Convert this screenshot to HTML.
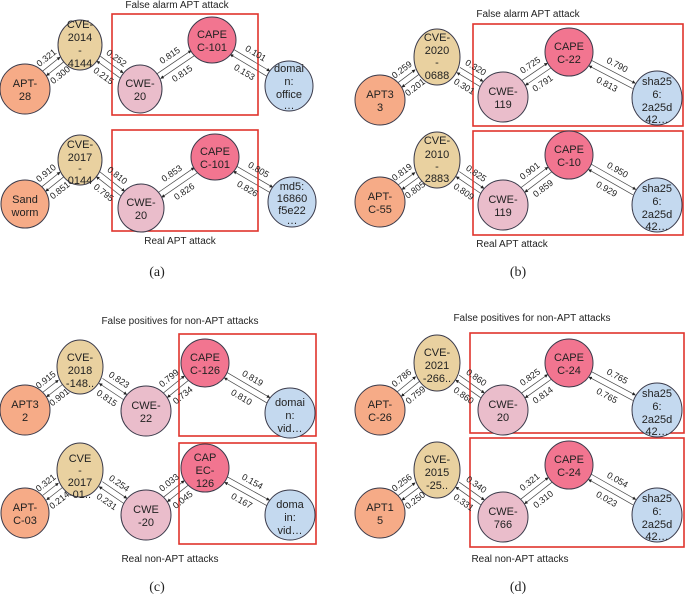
<!DOCTYPE html>
<html><head><meta charset="utf-8"><style>
html,body{margin:0;padding:0;background:#fff;}
svg{display:block;}
.n{stroke:#3a3a4a;stroke-width:1;}
.t{font-family:"Liberation Sans",sans-serif;font-size:11px;fill:#222;text-anchor:middle;}
.e{font-family:"Liberation Sans",sans-serif;font-size:9px;fill:#222;text-anchor:middle;}
.h{font-family:"Liberation Sans",sans-serif;font-size:10px;fill:#222;text-anchor:middle;}
.c{font-family:"Liberation Serif",serif;font-size:14px;fill:#222;text-anchor:middle;}
.apt{fill:#f6ab87}.cve{fill:#e9d1a0}.cwe{fill:#eabdcb}.cap{fill:#f27590}.blu{fill:#c4d9ef}
.box{fill:none;stroke:#e0342c;stroke-width:1.6;}
</style></head><body>
<svg id="s" width="685" height="599" viewBox="0 0 685 599" xmlns="http://www.w3.org/2000/svg">
<defs><marker id="ar" viewBox="0 0 6 6" refX="5.5" refY="3" markerWidth="5" markerHeight="5" orient="auto"><path d="M0,0L6,3L0,6z" fill="#222"/></marker></defs>
<g id="edges" stroke="#444" stroke-width="0.7"></g>

<rect class="box" x="112" y="14" width="146" height="101"/>
<rect class="box" x="112" y="130" width="146" height="101"/>
<rect class="box" x="473" y="24" width="210" height="102"/>
<rect class="box" x="473" y="131" width="210" height="104"/>
<rect class="box" x="179" y="334" width="137" height="102"/>
<rect class="box" x="179" y="443" width="137" height="101"/>
<rect class="box" x="470" y="333" width="214" height="100"/>
<rect class="box" x="470" y="438" width="214" height="109"/>

<text class="h" x="177" y="8">False alarm APT attack</text>
<text class="h" x="180" y="244">Real APT attack</text>
<text class="c" x="157" y="276">(a)</text>
<text class="h" x="528" y="17">False alarm APT attack</text>
<text class="h" x="512" y="247">Real APT attack</text>
<text class="c" x="518" y="276">(b)</text>
<text class="h" x="180" y="324">False positives for non-APT attacks</text>
<text class="h" x="170" y="562">Real non-APT attacks</text>
<text class="c" x="157" y="591">(c)</text>
<text class="h" x="532" y="321">False positives for non-APT attacks</text>
<text class="h" x="520" y="562">Real non-APT attacks</text>
<text class="c" x="518" y="591">(d)</text>

<ellipse class="n apt" cx="25" cy="89" rx="25" ry="25"/><text class="t" x="25" y="87">APT-</text><text class="t" x="25" y="100">28</text>
<ellipse class="n cve" cx="80" cy="45" rx="22" ry="25"/><text class="t" x="80" y="28">CVE-</text><text class="t" x="80" y="41">2014</text><text class="t" x="80" y="54">-</text><text class="t" x="80" y="67">4144</text>
<ellipse class="n cwe" cx="140" cy="89" rx="22" ry="24"/><text class="t" x="140" y="87">CWE-</text><text class="t" x="140" y="100">20</text>
<ellipse class="n cap" cx="212" cy="40" rx="24" ry="23"/><text class="t" x="212" y="38">CAPE</text><text class="t" x="212" y="51">C-101</text>
<ellipse class="n blu" cx="289" cy="86" rx="24" ry="25"/><text class="t" x="289" y="72">domai</text><text class="t" x="289" y="85">n:</text><text class="t" x="289" y="98">office</text><text class="t" x="289" y="109">…</text>
<ellipse class="n apt" cx="25" cy="204" rx="24" ry="24"/><text class="t" x="25" y="203">Sand</text><text class="t" x="25" y="216">worm</text>
<ellipse class="n cve" cx="80" cy="160" rx="22" ry="25"/><text class="t" x="80" y="148">CVE-</text><text class="t" x="80" y="161">2017</text><text class="t" x="80" y="172">-</text><text class="t" x="80" y="184">0144</text>
<ellipse class="n cwe" cx="141" cy="208" rx="23" ry="24"/><text class="t" x="141" y="206">CWE-</text><text class="t" x="141" y="219">20</text>
<ellipse class="n cap" cx="215" cy="157" rx="24" ry="23"/><text class="t" x="215" y="155">CAPE</text><text class="t" x="215" y="168">C-101</text>
<ellipse class="n blu" cx="292" cy="202" rx="24" ry="25"/><text class="t" x="292" y="190">md5:</text><text class="t" x="292" y="202">16860</text><text class="t" x="292" y="214">f5e22</text><text class="t" x="292" y="224">…</text>

<ellipse class="n apt" cx="380" cy="100" rx="25" ry="25"/><text class="t" x="380" y="98">APT3</text><text class="t" x="380" y="111">3</text>
<ellipse class="n cve" cx="437" cy="57" rx="23" ry="28"/><text class="t" x="437" y="41">CVE-</text><text class="t" x="437" y="54">2020</text><text class="t" x="437" y="66">-</text><text class="t" x="437" y="79">0688</text>
<ellipse class="n cwe" cx="503" cy="97" rx="25" ry="25"/><text class="t" x="503" y="95">CWE-</text><text class="t" x="503" y="108">119</text>
<ellipse class="n cap" cx="569" cy="52" rx="24" ry="24"/><text class="t" x="569" y="50">CAPE</text><text class="t" x="569" y="63">C-22</text>
<ellipse class="n blu" cx="657" cy="98" rx="25" ry="27"/><text class="t" x="657" y="85">sha25</text><text class="t" x="657" y="98">6:</text><text class="t" x="657" y="111">2a25d</text><text class="t" x="657" y="123">42…</text>
<ellipse class="n apt" cx="380" cy="202" rx="25" ry="25"/><text class="t" x="380" y="200">APT-</text><text class="t" x="380" y="213">C-55</text>
<ellipse class="n cve" cx="437" cy="160" rx="23" ry="28"/><text class="t" x="437" y="144">CVE-</text><text class="t" x="437" y="158">2010</text><text class="t" x="437" y="170">-</text><text class="t" x="437" y="182">2883</text>
<ellipse class="n cwe" cx="503" cy="205" rx="25" ry="25"/><text class="t" x="503" y="203">CWE-</text><text class="t" x="503" y="216">119</text>
<ellipse class="n cap" cx="569" cy="155" rx="24" ry="24"/><text class="t" x="569" y="153">CAPE</text><text class="t" x="569" y="166">C-10</text>
<ellipse class="n blu" cx="657" cy="205" rx="25" ry="27"/><text class="t" x="657" y="192">sha25</text><text class="t" x="657" y="205">6:</text><text class="t" x="657" y="218">2a25d</text><text class="t" x="657" y="230">42…</text>

<ellipse class="n apt" cx="25" cy="410" rx="25" ry="25"/><text class="t" x="25" y="408">APT3</text><text class="t" x="25" y="421">2</text>
<ellipse class="n cve" cx="80" cy="367" rx="23" ry="27"/><text class="t" x="80" y="361">CVE-</text><text class="t" x="80" y="374">2018</text><text class="t" x="80" y="387">-148..</text>
<ellipse class="n cwe" cx="146" cy="411" rx="25" ry="25"/><text class="t" x="146" y="409">CWE-</text><text class="t" x="146" y="422">22</text>
<ellipse class="n cap" cx="205" cy="363" rx="24" ry="24"/><text class="t" x="205" y="361">CAPE</text><text class="t" x="205" y="374">C-126</text>
<ellipse class="n blu" cx="290" cy="413" rx="25" ry="25"/><text class="t" x="290" y="406">domai</text><text class="t" x="290" y="419">n:</text><text class="t" x="290" y="432">vid…</text>
<ellipse class="n apt" cx="25" cy="513" rx="24" ry="25"/><text class="t" x="25" y="511">APT-</text><text class="t" x="25" y="524">C-03</text>
<ellipse class="n cve" cx="80" cy="470" rx="23" ry="27"/><text class="t" x="80" y="462">CVE</text><text class="t" x="80" y="474">-</text><text class="t" x="80" y="486">2017</text><text class="t" x="80" y="498">-01..</text>
<ellipse class="n cwe" cx="146" cy="515" rx="25" ry="25"/><text class="t" x="146" y="513">CWE</text><text class="t" x="146" y="526">-20</text>
<ellipse class="n cap" cx="205" cy="468" rx="24" ry="24"/><text class="t" x="205" y="461">CAP</text><text class="t" x="205" y="474">EC-</text><text class="t" x="205" y="487">126</text>
<ellipse class="n blu" cx="290" cy="515" rx="25" ry="25"/><text class="t" x="290" y="508">doma</text><text class="t" x="290" y="521">in:</text><text class="t" x="290" y="534">vid…</text>

<ellipse class="n apt" cx="380" cy="410" rx="25" ry="25"/><text class="t" x="380" y="408">APT-</text><text class="t" x="380" y="421">C-26</text>
<ellipse class="n cve" cx="437" cy="363" rx="23" ry="28"/><text class="t" x="437" y="356">CVE-</text><text class="t" x="437" y="369">2021</text><text class="t" x="437" y="382">-266..</text>
<ellipse class="n cwe" cx="503" cy="410" rx="25" ry="25"/><text class="t" x="503" y="408">CWE-</text><text class="t" x="503" y="421">20</text>
<ellipse class="n cap" cx="569" cy="363" rx="24" ry="24"/><text class="t" x="569" y="361">CAPE</text><text class="t" x="569" y="374">C-24</text>
<ellipse class="n blu" cx="657" cy="410" rx="25" ry="27"/><text class="t" x="657" y="397">sha25</text><text class="t" x="657" y="410">6:</text><text class="t" x="657" y="423">2a25d</text><text class="t" x="657" y="435">42…</text>
<ellipse class="n apt" cx="380" cy="513" rx="25" ry="25"/><text class="t" x="380" y="511">APT1</text><text class="t" x="380" y="524">5</text>
<ellipse class="n cve" cx="437" cy="470" rx="23" ry="28"/><text class="t" x="437" y="463">CVE-</text><text class="t" x="437" y="476">2015</text><text class="t" x="437" y="489">-25..</text>
<ellipse class="n cwe" cx="503" cy="517" rx="25" ry="25"/><text class="t" x="503" y="515">CWE-</text><text class="t" x="503" y="528">766</text>
<ellipse class="n cap" cx="569" cy="465" rx="24" ry="24"/><text class="t" x="569" y="463">CAPE</text><text class="t" x="569" y="476">C-24</text>
<ellipse class="n blu" cx="657" cy="515" rx="25" ry="27"/><text class="t" x="657" y="502">sha25</text><text class="t" x="657" y="515">6:</text><text class="t" x="657" y="528">2a25d</text><text class="t" x="657" y="540">42…</text>
</svg>
<script>
(function(){
var NS="http://www.w3.org/2000/svg",g=document.getElementById("edges"),s=document.getElementById("s");
function E(a,b,l1,l2){
 var dx=b[0]-a[0],dy=b[1]-a[1],L=Math.sqrt(dx*dx+dy*dy);dx/=L;dy/=L;
 var nx=-dy,ny=dx; if(ny>0){nx=-nx;ny=-ny;}
 var o=[3,-3];
 for(var i=0;i<2;i++){
  var ln=document.createElementNS(NS,"line");
  var x1=a[0]+dx*a[2]+nx*o[i],y1=a[1]+dy*a[2]+ny*o[i],x2=b[0]-dx*b[2]+nx*o[i],y2=b[1]-dy*b[2]+ny*o[i];
  if(i==0){ln.setAttribute("x1",x1);ln.setAttribute("y1",y1);ln.setAttribute("x2",x2);ln.setAttribute("y2",y2);}
  else{ln.setAttribute("x1",x2);ln.setAttribute("y1",y2);ln.setAttribute("x2",x1);ln.setAttribute("y2",y1);}
  ln.setAttribute("marker-end","url(#ar)");g.appendChild(ln);
 }
 var ang=Math.atan2(dy,dx)*180/Math.PI; if(ang>90)ang-=180; if(ang<-90)ang+=180;
 var mx=(a[0]+dx*a[2]+b[0]-dx*b[2])/2,my=(a[1]+dy*a[2]+b[1]-dy*b[2])/2;
 [[l1,11],[l2,-11]].forEach(function(p){
  var t=document.createElementNS(NS,"text");t.setAttribute("class","e");
  var x=mx+nx*p[1],y=my+ny*p[1]+3;
  t.setAttribute("x",x);t.setAttribute("y",y);
  t.setAttribute("transform","rotate("+ang+" "+x+" "+(y-3)+")");
  t.textContent=p[0];s.appendChild(t);
 });
}
function row(N,L){for(var i=0;i<4;i++)E(N[i],N[i+1],L[2*i],L[2*i+1]);}
row([[25,89,25],[80,45,23],[140,89,23],[212,40,23],[289,86,24]],["0.321","0.300","0.252","0.215","0.815","0.815","0.101","0.153"]);
row([[25,204,24],[80,160,23],[141,208,23],[215,157,23],[292,202,24]],["0.910","0.851","0.810","0.795","0.853","0.826","0.805","0.826"]);
row([[380,100,25],[437,57,25],[503,97,25],[569,52,24],[657,98,26]],["0.259","0.201","0.320","0.301","0.725","0.791","0.790","0.813"]);
row([[380,202,25],[437,160,25],[503,205,25],[569,155,24],[657,205,26]],["0.819","0.805","0.825","0.809","0.901","0.859","0.950","0.929"]);
row([[25,410,25],[80,367,25],[146,411,25],[205,363,24],[290,413,25]],["0.915","0.901","0.823","0.815","0.799","0.734","0.819","0.810"]);
row([[25,513,25],[80,470,25],[146,515,25],[205,468,24],[290,515,25]],["0.321","0.214","0.254","0.231","0.033","0.045","0.154","0.167"]);
row([[380,410,25],[437,363,25],[503,410,25],[569,363,24],[657,410,26]],["0.786","0.759","0.860","0.860","0.825","0.814","0.765","0.765"]);
row([[380,513,25],[437,470,25],[503,517,25],[569,465,24],[657,515,26]],["0.256","0.250","0.340","0.331","0.321","0.310","0.054","0.023"]);
})();
</script>
</body></html>
